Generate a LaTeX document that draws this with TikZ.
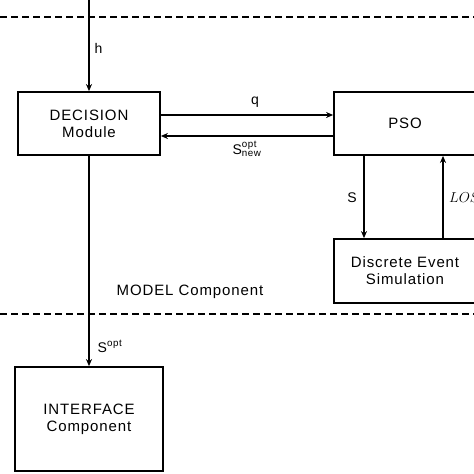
\documentclass[tikz,border=0pt]{standalone}
\usepackage{amsmath}
\usepackage{fontspec}
\setmainfont{Liberation Sans}[LetterSpace=6]
\usetikzlibrary{arrows.meta}
\begin{document}
\begin{tikzpicture}[x=1pt,y=-1pt,
  box/.style={draw,line width=1.8pt,inner sep=0pt,align=center,
    font=\fontsize{15}{17}\selectfont},
  lab/.style={inner sep=0pt,font=\fontsize{14}{16}\selectfont},
  conn/.style={line width=1.4pt,-{Stealth[length=7pt,width=6pt]}},
  sep/.style={line width=1.2pt,dash pattern=on 7pt off 4pt}]
\useasboundingbox (0,0) rectangle (474,474);
\clip (0,0) rectangle (474,474);
\fill[white] (0,0) rectangle (474,474);
\draw[sep] (0,17) -- (474,17);
\draw[sep] (0,314) -- (474,314);
\node[box,minimum width=142pt,minimum height=63pt] (dec) at (89,123.5) {DECISION\\Module};
\node[box,minimum width=142pt,minimum height=63pt] (pso) at (405,123.5) {PSO};
\node[box,minimum width=142pt,minimum height=64pt] (des) at (405,271) {Discrete Event\\Simulation};
\node[box,minimum width=148pt,minimum height=104pt] (int) at (89,419) {INTERFACE\\Component};
\coordinate (top) at (89,0);
\draw[conn] (top) -- (dec.north);
\draw[conn] (dec.south) -- (int.north);
\draw[conn] ([yshift=8.5pt]dec.east) -- ([yshift=8.5pt]pso.west);
\draw[conn] ([yshift=-12.5pt]pso.west) -- ([yshift=-12.5pt]dec.east);
\draw[conn] ([xshift=-41pt]pso.south) -- ([xshift=-41pt]des.north);
\draw[conn] ([xshift=38pt]des.north) -- ([xshift=38pt]pso.south);
\node[lab] (hl) at (98.5,48) {h};
\node[lab] (ql) at (255,102) {q};
\node[lab] (snl) at (247,149) {$\text{S}^{\text{opt}}_{\text{new}}$};
\node[lab] (sl) at (352,198) {S};
\node[lab,anchor=west] (lol) at (449,198) {$LOSS$};
\node[lab] (sol) at (110,346) {$\text{S}^{\text{opt}}$};
\node[inner sep=0pt,font=\fontsize{15}{17}\selectfont] (mc) at (190,292) {MODEL Component};
\end{tikzpicture}
\end{document}
